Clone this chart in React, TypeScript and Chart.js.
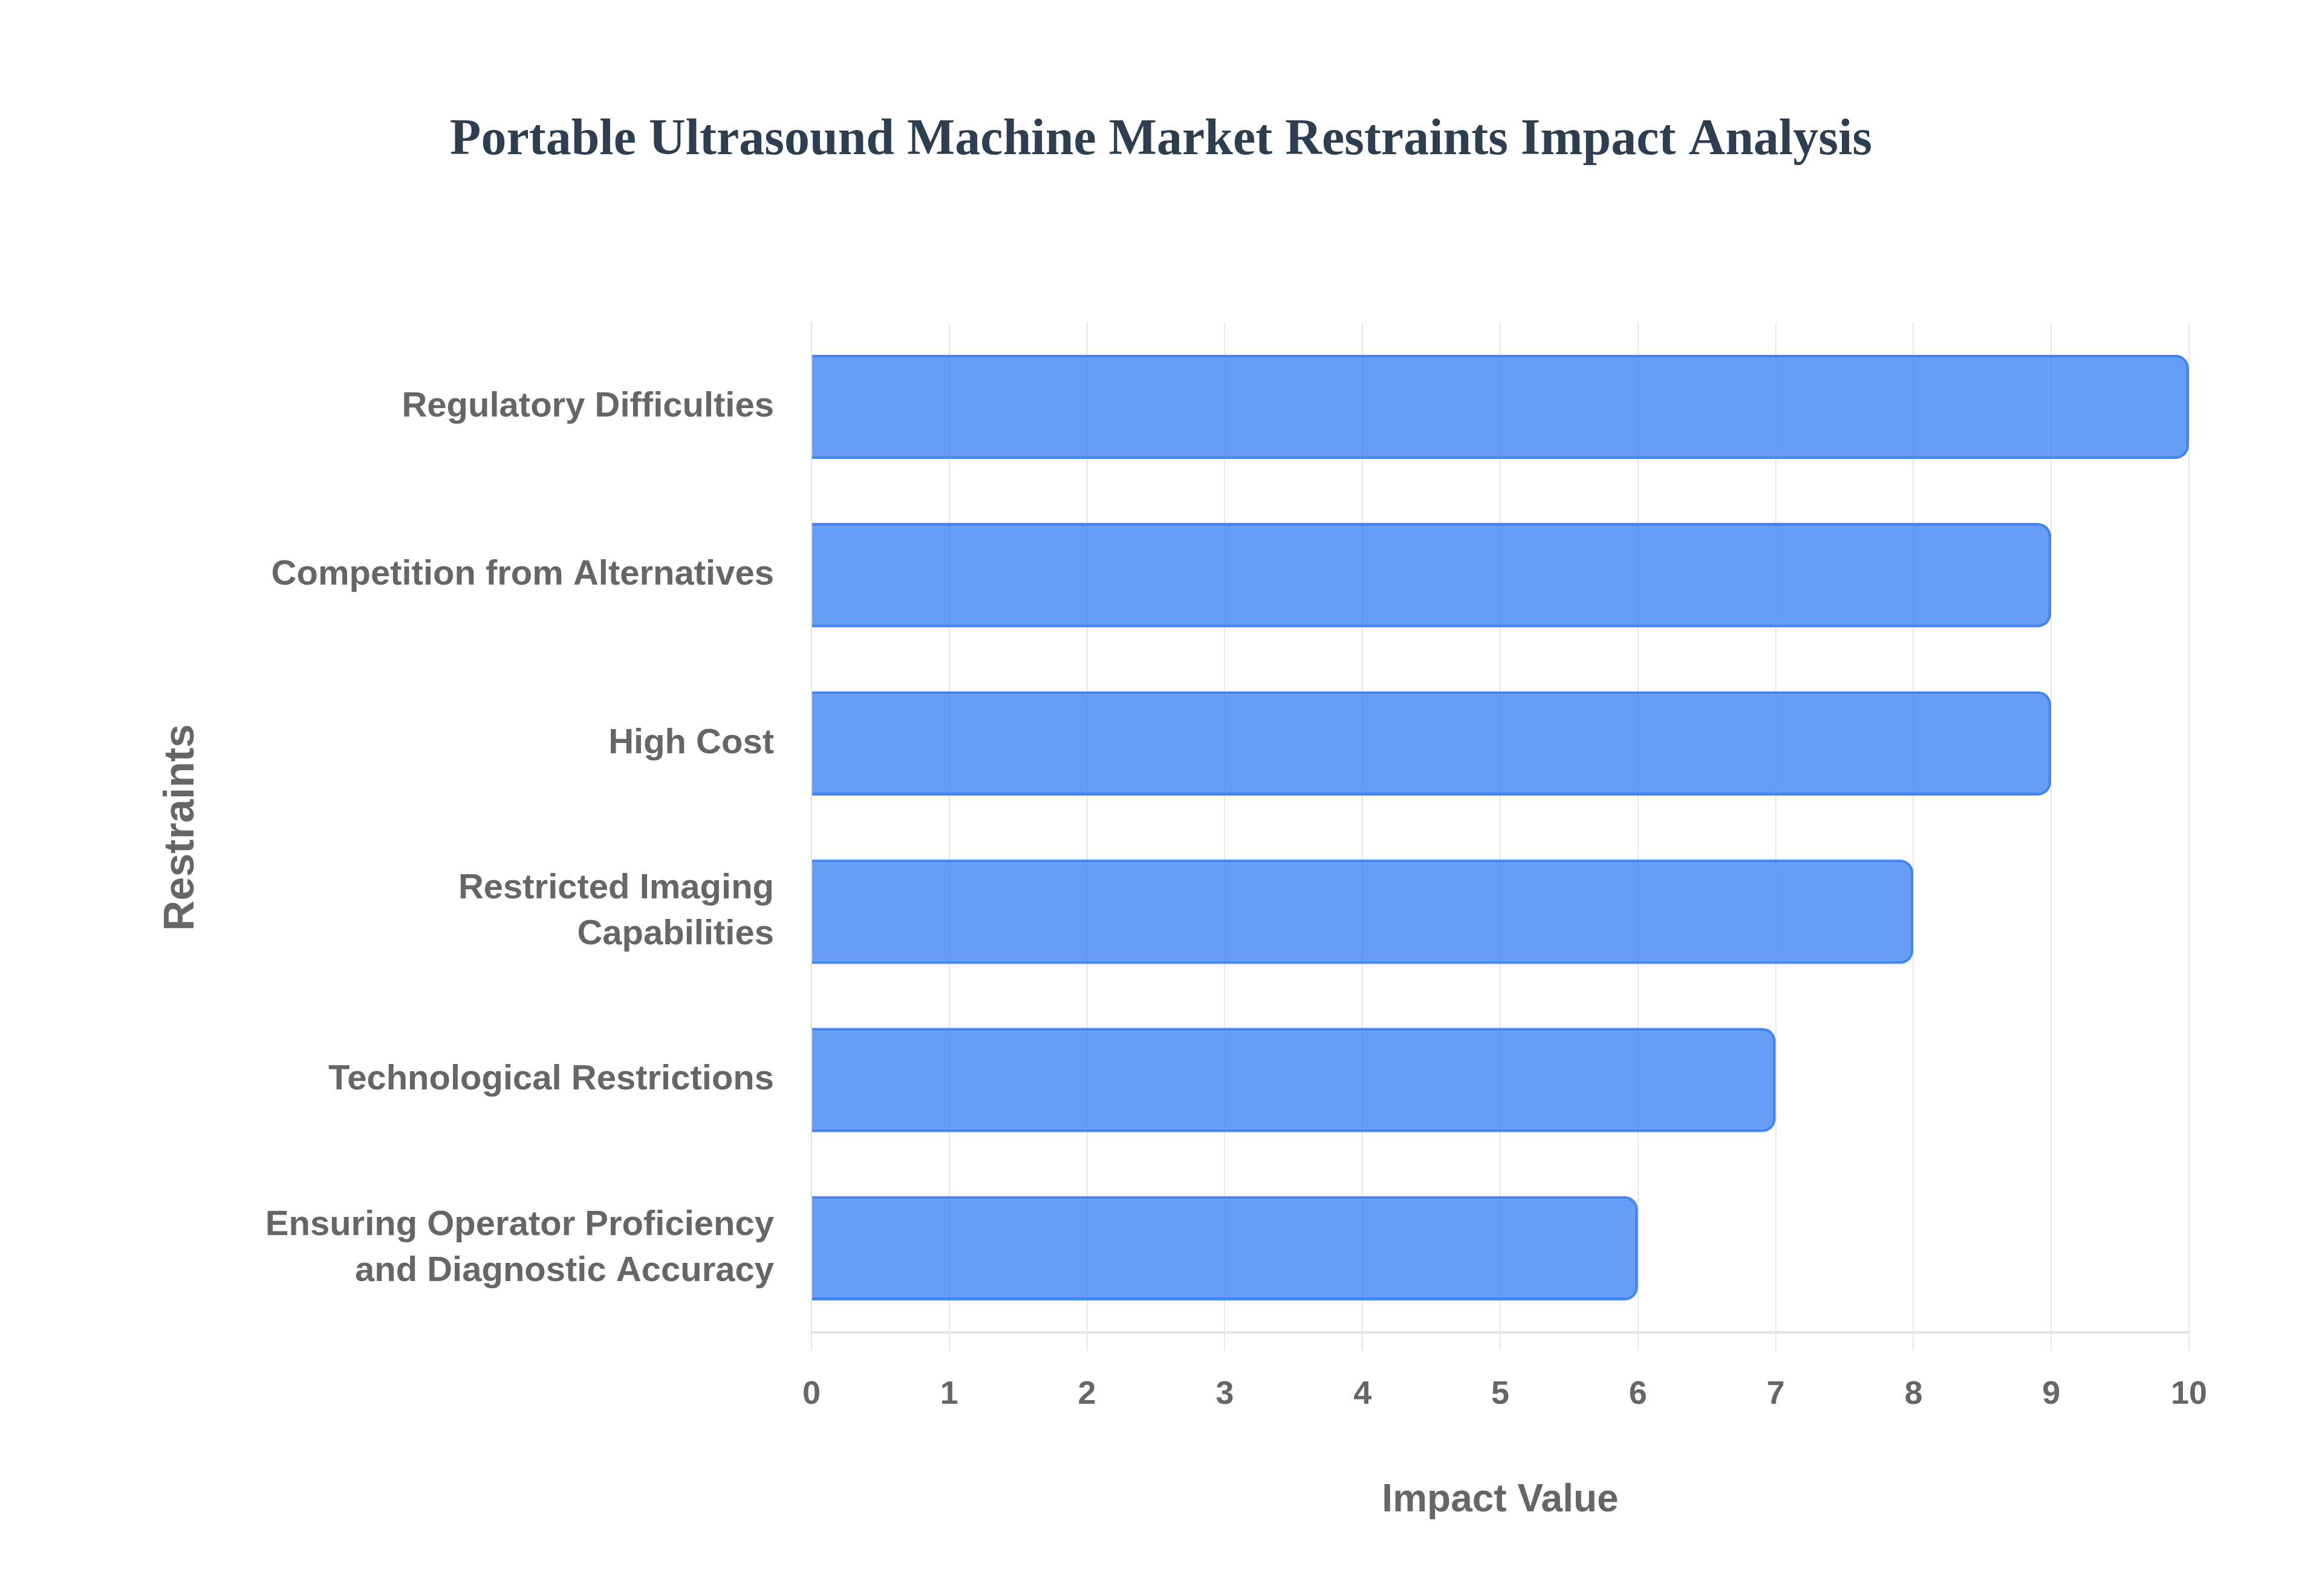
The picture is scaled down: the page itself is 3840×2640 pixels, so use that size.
import { useEffect, useRef } from "react";
import { Chart, registerables } from "chart.js";

Chart.register(...registerables);

const restraints: (string | string[])[] = [
  "Regulatory Difficulties",
  "Competition from Alternatives",
  "High Cost",
  ["Restricted Imaging", "Capabilities"],
  "Technological Restrictions",
  ["Ensuring Operator Proficiency", "and Diagnostic Accuracy"],
];
const impactValues = [10, 9, 9, 8, 7, 6];

const TITLE = "Portable Ultrasound Machine Market Restraints Impact Analysis";
const SANS = "'Liberation Sans', Arial, sans-serif";

export default function App() {
  const canvasRef = useRef<HTMLCanvasElement>(null);

  useEffect(() => {
    const canvas = canvasRef.current;
    if (!canvas) return;

    const chart = new Chart(canvas, {
      type: "bar",
      data: {
        labels: restraints,
        datasets: [
          {
            label: "Impact Value",
            data: impactValues,
            backgroundColor: "rgba(66, 133, 244, 0.8)",
            borderColor: "#4285F4",
            borderWidth: 5,
            borderRadius: 22,
            barPercentage: 0.62,
            categoryPercentage: 1,
          },
        ],
      },
      options: {
        indexAxis: "y",
        responsive: true,
        maintainAspectRatio: false,
        animation: false,
        layout: { padding: 0 },
        plugins: {
          legend: { display: false },
          tooltip: { enabled: false },
          title: {
            display: true,
            text: TITLE,
            color: "#2c3e50",
            font: { family: "'Liberation Serif', 'Times New Roman', serif", size: 84, weight: "bold", lineHeight: 1.2 },
            padding: { top: 183, bottom: 250 },
          },
        },
        scales: {
          x: {
            min: 0,
            max: 10,
            ticks: {
              stepSize: 1,
              color: "#666666",
              padding: 41,
              font: { family: SANS, size: 54, weight: "bold" },
            },
            grid: { color: "#e6e6e6", lineWidth: 2, tickLength: 30, tickColor: "#e6e6e6" },
            border: { display: true, color: "#e3e3e3", width: 4 },
            title: {
              display: true,
              text: "Impact Value",
              color: "#666666",
              font: { family: SANS, size: 64, weight: "bold", lineHeight: 1.2 },
              padding: { top: 0, bottom: 119 },
            },
            afterFit: (scale) => {
              scale.height = 436;
            },
          },
          y: {
            grid: { display: false },
            border: { display: true, color: "#e3e3e3", width: 2 },
            ticks: {
              color: "#666666",
              padding: 54,
              font: { family: SANS, size: 58, weight: "bold", lineHeight: 1.3 },
            },
            title: {
              display: true,
              text: "Restraints",
              color: "#666666",
              font: { family: SANS, size: 70, weight: "bold", lineHeight: 1.2 },
              padding: { top: 259, bottom: 0 },
            },
            afterFit: (scale) => {
              scale.width = 1342;
            },
          },
          // empty right-hand gutter so the title stays centred on the canvas
          gutter: {
            type: "linear",
            position: "right",
            grid: { display: false },
            border: { display: false },
            ticks: { display: false },
            afterFit: (scale) => {
              scale.width = 220;
            },
          },
        },
      },
    });

    return () => chart.destroy();
  }, []);

  return (
    <div style={{ position: "fixed", left: 0, top: 0, width: 3840, height: 2640, background: "#ffffff" }}>
      <canvas ref={canvasRef} />
    </div>
  );
}
